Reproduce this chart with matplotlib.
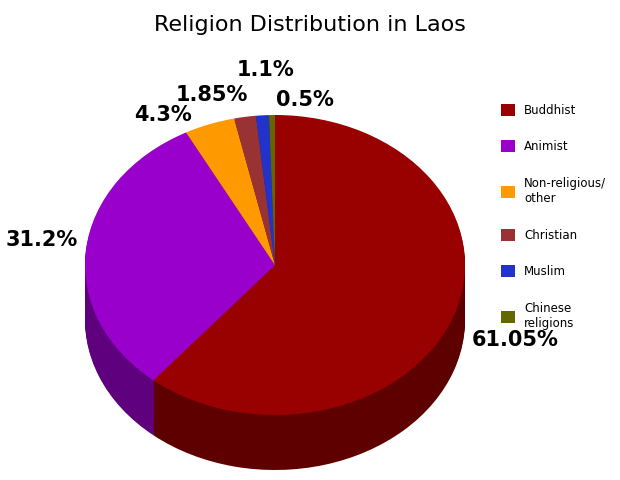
import numpy as np
import matplotlib.pyplot as plt
import matplotlib.colors as mcolors
from matplotlib.patches import Patch

religions = ["Buddhist", "Animist", "Non-religious/\nother", "Christian", "Muslim", "Chinese\nreligions"]
shares = [61.05, 31.2, 4.3, 1.85, 1.1, 0.5]
share_labels = ["61.05%", "31.2%", "4.3%", "1.85%", "1.1%", "0.5%"]
colors = ["#990000", "#9900cc", "#ff9900", "#993333", "#2233cc", "#666600"]

fig = plt.figure(figsize=(6.2, 4.8), dpi=100)
fig.patch.set_facecolor("white")

# pie axes: radius 1 maps to ~190 px wide, ~150 px tall; depth ~55 px
depth = 55 / 150
ax = fig.add_axes([85 / 620, 10 / 480, 380 / 620, 355 / 480])

dark = [tuple(np.array(mcolors.to_rgb(c)) * 0.62) for c in colors]
n_layers = 40
for k in range(n_layers, 0, -1):
    ax.pie(shares, colors=dark, startangle=90, counterclock=False,
           center=(0, -depth * k / n_layers), radius=1,
           wedgeprops=dict(linewidth=0))
ax.pie(shares, colors=colors, startangle=90, counterclock=False,
       center=(0, 0), radius=1, wedgeprops=dict(linewidth=0))
ax.set_aspect("auto")
ax.set_xlim(-1, 1)
ax.set_ylim(-1 - depth, 1)
ax.axis("off")

fig.text(0.5, 1 - 25 / 480, "Religion Distribution in Laos", ha="center", va="center", fontsize=16)

label_pos = [(515, 340), (42, 240), (163, 115), (212, 95), (266, 70), (305, 100)]
for (px, py), txt in zip(label_pos, share_labels):
    fig.text(px / 620, 1 - py / 480, txt, ha="center", va="center",
             fontsize=15, fontweight="bold")

handles = [Patch(facecolor=c, edgecolor="none") for c in colors]
fig.legend(handles, religions, loc="upper left", bbox_to_anchor=(490 / 620, 1 - 93 / 480),
           frameon=False, fontsize=8.5, labelspacing=2.0, handlelength=1.2, handleheight=1.2)

fig.savefig("out.png", dpi=100)
